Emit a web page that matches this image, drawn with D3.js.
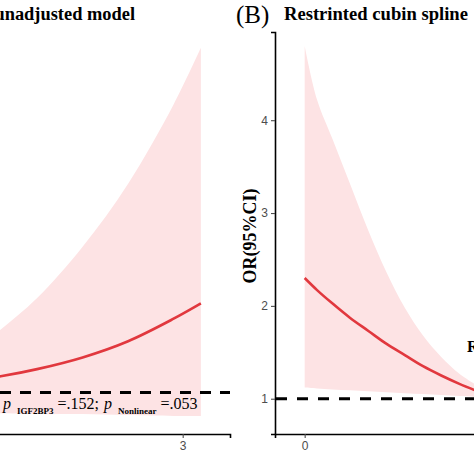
<!DOCTYPE html>
<html>
<head>
<meta charset="utf-8">
<script src="https://cdn.jsdelivr.net/npm/d3@7"></script>
<style>
  html, body { margin: 0; padding: 0; background: #fff; }
  svg { display: block; }
</style>
</head>
<body>
<div id="chart"></div>
<script>
// left panel (unadjusted model), only its right part is in view
const leftX     = [1.95, 2.0, 2.2, 2.45, 2.7, 2.95, 3.1]
const leftOR    = [1.165, 1.18, 1.26, 1.39, 1.57, 1.82, 1.99]
const leftUpper = [1.62, 1.70, 2.05, 2.62, 3.32, 4.20, 4.83]
const leftLower = [0.77, 0.77, 0.76, 0.76, 0.75, 0.74, 0.74]
const leftTicks = [3]

// right panel (B) restricted cubic spline, only its left part is in view
const rightX     = [0, 0.068, 0.15, 0.25, 0.35, 0.45, 0.55, 0.65, 0.75, 0.85, 0.95]
const rightOR    = [2.30, 2.17, 2.03, 1.87, 1.73, 1.59, 1.47, 1.35, 1.25, 1.16, 1.08]
const rightUpper = [4.80, 4.22, 3.81, 3.31, 2.81, 2.36, 1.98, 1.68, 1.45, 1.27, 1.14]
const rightLower = [1.12, 1.11, 1.10, 1.09, 1.08, 1.07, 1.06, 1.05, 1.04, 1.03, 1.02]
const rightXTicks = [0]
const rightYTicks = [1, 2, 3, 4]

const W = 474, H = 474
const lineColor = '#e1383e'
const bandColor = '#fde3e4'
const tickColor = '#4d4d4d'

const svg = d3.select('#chart').append('svg')
  .attr('width', W)
  .attr('height', H)

// scales
const xL = d3.scaleLinear().domain([1.886, 3.26]).range([-20, 230])
const yL = d3.scaleLinear().domain([0.539, 5.006]).range([434, 32])
const xR = d3.scaleLinear().domain([-0.163, 1.073]).range([275, 500])
const yR = d3.scaleLinear().domain([0.62, 4.95]).range([434, 32])

const smooth = d3.curveCatmullRom.alpha(0.5)

const drawPanel = (xs, x, y, est, up, lo) => {
  const rows = xs.map((v, i) => ({ x: v, est: est[i], up: up[i], lo: lo[i] }))
  const area = d3.area()
    .x(d => x(d.x))
    .y0(d => y(d.lo))
    .y1(d => y(d.up))
    .curve(smooth)
  const line = d3.line()
    .x(d => x(d.x))
    .y(d => y(d.est))
    .curve(smooth)
  svg.append('path')
    .datum(rows)
    .attr('d', area)
    .attr('fill', bandColor)
  return () => svg.append('path')
    .datum(rows)
    .attr('d', line)
    .attr('fill', 'none')
    .attr('stroke', lineColor)
    .attr('stroke-width', 2.6)
}

const drawLeftLine = drawPanel(leftX, xL, yL, leftOR, leftUpper, leftLower)
const drawRightLine = drawPanel(rightX, xR, yR, rightOR, rightUpper, rightLower)

// reference lines at OR = 1
svg.append('line')
  .attr('x1', 0).attr('x2', 230)
  .attr('y1', yL(1)).attr('y2', yL(1))
  .attr('stroke', '#000')
  .attr('stroke-width', 3)
  .attr('stroke-dasharray', '11,9')
svg.append('line')
  .attr('x1', 276).attr('x2', W)
  .attr('y1', yR(1)).attr('y2', yR(1))
  .attr('stroke', '#000')
  .attr('stroke-width', 3)
  .attr('stroke-dasharray', '11,10')

drawLeftLine()
drawRightLine()

// axes
const styleAxis = g => {
  g.select('.domain').attr('stroke', '#000').attr('stroke-width', 1.6)
  g.selectAll('.tick line').attr('stroke', tickColor).attr('stroke-width', 1.1)
  g.selectAll('.tick text')
    .attr('fill', tickColor)
    .style('font-family', '"Liberation Sans", Arial, sans-serif')
    .style('font-size', '12px')
}

const fmt = d3.format('d')

svg.append('g')
  .attr('transform', 'translate(0,434)')
  .call(d3.axisBottom(xL).tickValues(leftTicks).tickFormat(fmt)
    .tickSizeOuter(0).tickSize(4).tickPadding(3))
  .call(styleAxis)

svg.append('g')
  .attr('transform', 'translate(0,434)')
  .call(d3.axisBottom(xR).tickValues(rightXTicks).tickFormat(fmt)
    .tickSizeOuter(0).tickSize(4).tickPadding(3))
  .call(styleAxis)

svg.append('g')
  .attr('transform', 'translate(275,0)')
  .call(d3.axisLeft(yR).tickValues(rightYTicks).tickFormat(fmt)
    .tickSizeOuter(0).tickSize(4).tickPadding(3))
  .call(styleAxis)

// titles
const serif = '"Liberation Serif", "Times New Roman", serif'

svg.append('text')
  .attr('x', 135).attr('y', 20)
  .attr('text-anchor', 'end')
  .style('font-family', serif)
  .style('font-weight', 'bold')
  .style('font-size', '18.4px')
  .text('unadjusted model')

svg.append('text')
  .attr('x', 236).attr('y', 22.5)
  .style('font-family', serif)
  .style('font-size', '25px')
  .text('(B)')

svg.append('text')
  .attr('x', 284).attr('y', 20)
  .style('font-family', serif)
  .style('font-weight', 'bold')
  .style('font-size', '18.6px')
  .text('Restrinted cubin spline')

svg.append('text')
  .attr('transform', 'translate(256,236) rotate(-90)')
  .attr('text-anchor', 'middle')
  .style('font-family', serif)
  .style('font-weight', 'bold')
  .style('font-size', '18px')
  .text('OR(95%CI)')

svg.append('text')
  .attr('x', 467).attr('y', 352)
  .style('font-family', serif)
  .style('font-weight', 'bold')
  .style('font-size', '16px')
  .text('R')

// p-value annotation
const ann = svg.append('text')
  .attr('x', 3).attr('y', 409)
  .style('font-family', serif)
  .style('font-size', '16px')
ann.append('tspan').style('font-style', 'italic').text('p')
ann.append('tspan').attr('dx', 6).attr('dy', 5)
  .style('font-size', '9px').style('font-weight', 'bold').text('IGF2BP3')
ann.append('tspan').attr('dx', 4).attr('dy', -5).text('=.152;')
ann.append('tspan').attr('dx', 5).style('font-style', 'italic').text('p')
ann.append('tspan').attr('dx', 6).attr('dy', 5)
  .style('font-size', '9px').style('font-weight', 'bold').text('Nonlinear')
ann.append('tspan').attr('dx', 4).attr('dy', -5).text('=.053')
</script>
</body>
</html>
